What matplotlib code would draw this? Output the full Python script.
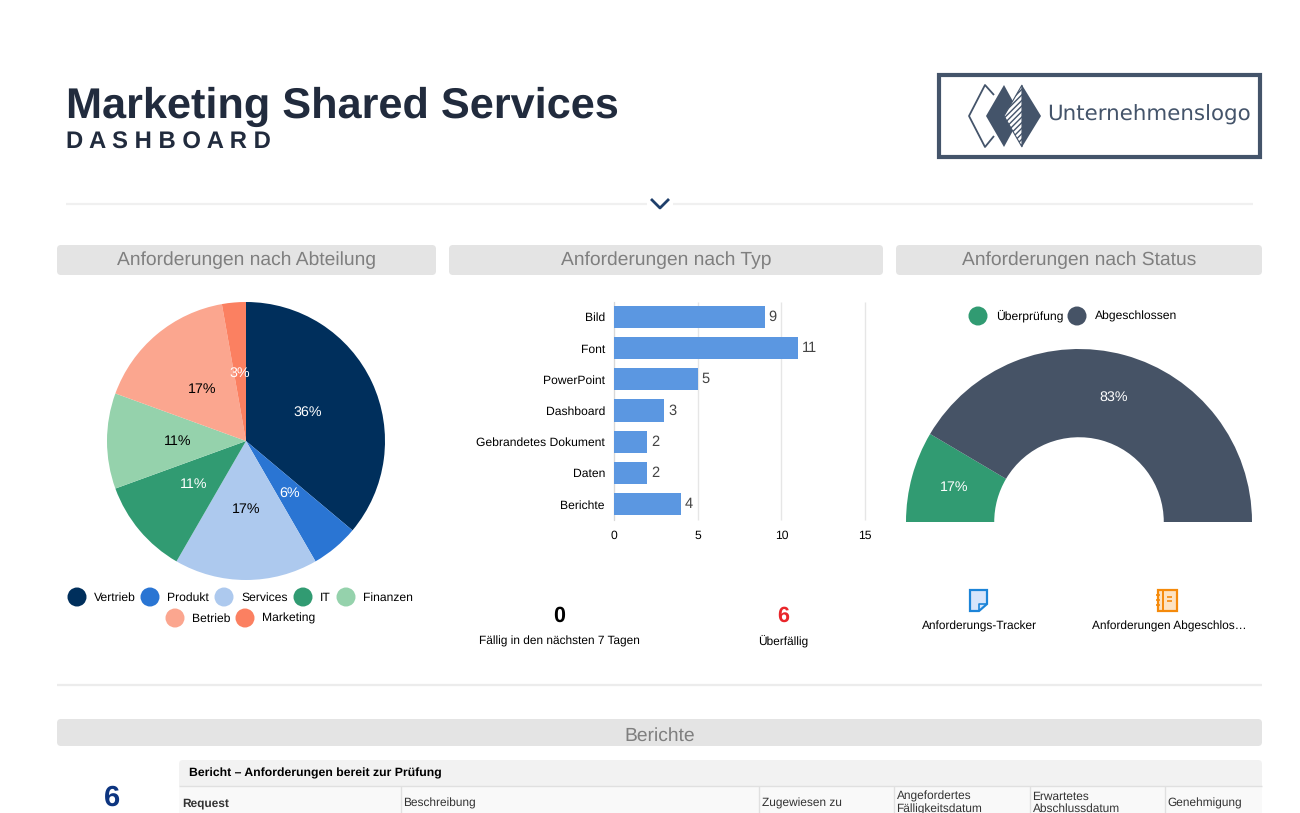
import matplotlib
matplotlib.use('Agg')
import matplotlib.pyplot as plt
from matplotlib.patches import Circle, FancyBboxPatch, Polygon, Rectangle
import numpy as np

plt.rcParams['font.family'] = ['Liberation Sans', 'DejaVu Sans']
plt.rcParams['text.hinting'] = 'no_hinting'
plt.rcParams['lines.solid_capstyle'] = 'butt'

dept_names = ['Vertrieb', 'Produkt', 'Services', 'IT', 'Finanzen', 'Betrieb', 'Marketing']
dept_counts = [13, 2, 6, 4, 4, 6, 1]
dept_colors = ['#002f5c', '#2a75d3', '#adc9ee', '#319b72', '#95d2ac', '#fba68f', '#fb8061']
dept_text = ['white', 'white', 'black', 'white', 'black', 'black', 'white']

type_names = ['Bild', 'Font', 'PowerPoint', 'Dashboard', 'Gebrandetes Dokument', 'Daten', 'Berichte']
type_counts = [9, 11, 5, 3, 2, 2, 4]

status_names = ['Überprüfung', 'Abgeschlossen']
status_share = [17, 83]
status_colors = ['#319b72', '#465366']

due_soon = 0
overdue = 6
report_count = 6
table_columns = ['Request', 'Beschreibung', 'Zugewiesen zu', 'Angefordertes\nFälligkeitsdatum',
                 'Erwartetes\nAbschlussdatum', 'Genehmigung']

W, H = 1300, 813
fig = plt.figure(figsize=(13, 8.13), dpi=100)

# background layer in pixel units, y pointing down
bg = fig.add_axes([0, 0, 1, 1])
bg.set_xlim(0, W)
bg.set_ylim(H, 0)
bg.axis('off')


def px_axes(left, top, right, bottom):
    return fig.add_axes([left / W, 1 - bottom / H, (right - left) / W, (bottom - top) / H], zorder=2)


def header(left, right, top, bottom, title, baseline):
    bg.add_patch(FancyBboxPatch((left, top), right - left, bottom - top, linewidth=0, facecolor='#e4e4e4',
                                boxstyle='round,pad=0,rounding_size=4'))
    bg.text((left + right) / 2, baseline, title, fontsize=13.85, color='#7f7f7f', ha='center', va='baseline')


# title block
bg.text(66, 118, 'Marketing Shared Services', fontsize=31.15, fontweight='bold', color='#212b3d', va='baseline')
bg.text(66, 148.5, 'D A S H B O A R D', fontsize=17.2, fontweight='bold', color='#212b3d', va='baseline')

# logo
logo = '#44546a'
bg.add_patch(Rectangle((939, 75), 321, 82, facecolor='white', edgecolor=logo, linewidth=3))
bg.plot([994, 985, 969, 985, 994], [95, 85, 116, 147, 136], color=logo, lw=1.3)
bg.add_patch(Polygon([(986, 116), (1004, 85), (1021, 116), (1004, 147)], facecolor=logo, edgecolor='none'))
bg.add_patch(Polygon([(1022, 85), (1041, 116), (1022, 147)], facecolor=logo, edgecolor='none'))
bg.add_patch(Polygon([(1004, 116), (1022, 85), (1022, 147)], facecolor='white', edgecolor=logo, lw=0.8, hatch='//////'))
bg.text(1047, 115, 'Unternehmenslogo', fontsize=15.4, color=logo, va='center', family='DejaVu Sans')

# divider with chevron
bg.plot([66, 647], [204, 204], color='#f0f0f0', lw=1.6)
bg.plot([673, 1253], [204, 204], color='#f0f0f0', lw=1.6)
bg.plot([651, 660, 669], [199, 208, 199], color='#1f3f6b', lw=2)

header(57, 436, 245, 275, 'Anforderungen nach Abteilung', 265.5)
header(449, 883, 245, 275, 'Anforderungen nach Typ', 265.5)
header(896, 1262, 245, 275, 'Anforderungen nach Status', 265.5)

# department pie
ax = px_axes(107, 302, 385, 580)
wedges, _, pcts = ax.pie(dept_counts, colors=dept_colors, startangle=90, counterclock=False,
                         autopct='%.0f%%', pctdistance=0.49, wedgeprops={'linewidth': 0})
for pct, col in zip(pcts, dept_text):
    pct.set_color(col)
    pct.set_fontsize(10.3)
ax.set_xlim(-1, 1)
ax.set_ylim(-1, 1)

legend_x = [77, 150, 224, 303, 346, 175, 245]
legend_y = [597, 597, 597, 597, 597, 618, 618]
for name, col, x, y in zip(dept_names, dept_colors, legend_x, legend_y):
    bg.add_patch(Circle((x, y), 9.5, facecolor=col, edgecolor='none'))
    bg.text(x + 17, y + 3.5, name, fontsize=8.7, color='black', va='baseline')

# request types
ax = px_axes(614, 302, 865, 520)
pos = np.arange(len(type_names))
bars = ax.barh(pos, type_counts, height=0.71, color='#5b97e1', zorder=3)
ax.bar_label(bars, padding=3, fontsize=10.5, color='#444444')
ax.set_yticks(pos, type_names)
ax.set_ylim(6.51, -0.48)
ax.set_xlim(0, 15)
ax.set_xticks([0, 5, 10, 15])
ax.grid(axis='x', color='#e6e6e6', lw=1, zorder=0)
for line in ax.get_xgridlines():
    line.set_clip_on(False)
ax.tick_params(length=0, labelsize=8.7, pad=6.5)
ax.tick_params(axis='x', pad=7)
for s in ax.spines.values():
    s.set_visible(False)
ax.spines['left'].set_visible(True)
ax.spines['left'].set_color('#d8d8d8')

# status half donut, the lower half of the circle stays empty
ax = px_axes(906, 349, 1252, 695)
wedges, _ = ax.pie(status_share + [sum(status_share)], colors=status_colors + ['none'], startangle=180,
                   counterclock=False, wedgeprops={'width': 0.51, 'linewidth': 0})
for w, val in zip(wedges, status_share):
    mid = np.deg2rad((w.theta1 + w.theta2) / 2)
    ax.text(0.75 * np.cos(mid), 0.75 * np.sin(mid), f'{val}%', color='white', fontsize=10.3, ha='center', va='center')
ax.set_xlim(-1, 1)
ax.set_ylim(-1, 1)

for name, col, x in zip(status_names, status_colors, [978, 1077]):
    bg.add_patch(Circle((x, 316), 9.5, facecolor=col, edgecolor='none'))
    bg.text(x + 18, 320, name, fontsize=8.7, color='black', va='baseline')

# counters
bg.text(559, 622, str(due_soon), fontsize=15.5, fontweight='bold', color='black', ha='center', va='baseline')
bg.text(559, 644.5, 'Fällig in den nächsten 7 Tagen', fontsize=8.6, color='black', ha='center', va='baseline')
bg.text(783, 622, str(overdue), fontsize=15.5, fontweight='bold', color='#e9262b', ha='center', va='baseline')
bg.text(783, 644.5, 'Überfällig', fontsize=8.6, color='black', ha='center', va='baseline')

# report icons
blue = '#1c84d8'
bg.add_patch(Polygon([(970, 590), (987, 590), (987, 604), (979, 611), (970, 611)], facecolor='#d7e5fb', edgecolor=blue, lw=1.6))
bg.plot([987, 979, 979], [604, 604, 611], color=blue, lw=1.2)
orange = '#f58a0b'
bg.add_patch(Rectangle((1158, 590), 18.5, 21, facecolor='#fde3c3', edgecolor=orange, lw=1.6))
bg.plot([1163, 1163], [590, 611], color=orange, lw=1.4)
bg.plot([1167, 1172], [597, 597], color=orange, lw=1.2)
bg.plot([1167, 1172], [601, 601], color=orange, lw=1.2)
for y in [595, 600, 605]:
    bg.plot([1156, 1160], [y, y], color=orange, lw=1.2)
bg.text(979, 629.5, 'Anforderungs-Tracker', fontsize=8.6, color='black', ha='center', va='baseline')
bg.text(1169, 629.5, 'Anforderungen Abgeschlos…', fontsize=8.6, color='black', ha='center', va='baseline')

bg.plot([57, 1262], [685, 685], color='#ececec', lw=1.6)
header(57, 1262, 719, 746, 'Berichte', 740.5)

# report table, cut off by the lower edge
bg.text(112, 806, str(report_count), fontsize=21, fontweight='bold', color='#0d3580', ha='center', va='baseline')
bg.add_patch(FancyBboxPatch((179, 760), 1083, 80, linewidth=0, facecolor='#f2f2f2', boxstyle='round,pad=0,rounding_size=4'))
bg.add_patch(Rectangle((179, 786), 1083, 30, linewidth=0, facecolor='#f9f9f9'))
bg.plot([179, 1262], [785.5, 785.5], color='#e0e0e0', lw=1)
bg.text(189, 776, 'Bericht – Anforderungen bereit zur Prüfung', fontsize=8.85, fontweight='bold', color='black', va='baseline')
col_x = [179, 400.5, 758.5, 893.5, 1029.5, 1164.5]
for x, name in zip(col_x, table_columns):
    if x > 179:
        bg.plot([x, x], [786, 813], color='#e0e0e0', lw=1)
    weight = 'bold' if name == 'Request' else 'normal'
    bg.text(x + 3, 803, name, fontsize=8.6, color='#333333', fontweight=weight, va='center', linespacing=1.15)

bg.set_xlim(0, W)
bg.set_ylim(H, 0)
fig.savefig('out.png', dpi=100)
